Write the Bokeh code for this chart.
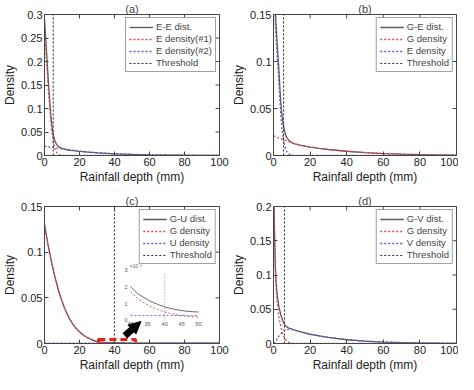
import math
from bokeh.plotting import figure
from bokeh.layouts import column, row
from bokeh.models import (Range1d, FixedTicker, Legend, LegendItem, Spacer,
                          Arrow, NormalHead, BoxAnnotation)
from bokeh.core.properties import value
from bokeh.embed import file_html
from bokeh.resources import INLINE

FONT = "Liberation Sans"
C_SOLID = "#5a5a5a"
C_RED = "#e0474c"
C_BLUE = "#5a5ad0"
C_THR = "#303030"

XTICKS = [0, 20, 40, 60, 80, 100]

# ---------------- panel (a) ----------------
xa = [0, 0.5, 1, 1.5, 2, 2.5, 3, 3.5, 4, 4.5, 5, 6, 7, 8, 10, 12, 15, 20, 25, 30, 40, 50, 60, 70, 80, 90, 100]
a_ee = [0.29, 0.26, 0.23, 0.2, 0.17, 0.142, 0.115, 0.092, 0.072, 0.056, 0.044, 0.03, 0.023, 0.019, 0.015, 0.0128,
        0.011, 0.0088, 0.007, 0.0056, 0.0036, 0.0023, 0.0015, 0.001, 0.0006, 0.0004, 0.0003]
a_e1 = [0.27, 0.24, 0.21, 0.18, 0.15, 0.125, 0.1, 0.078, 0.058, 0.042, 0.03, 0.014, 0.006, 0.002, 0.0003, 0.0,
        0.0, 0.0, 0.0, 0.0, 0.0, 0.0, 0.0, 0.0, 0.0, 0.0, 0.0]
a_e2 = [0.02, 0.0196, 0.0192, 0.0188, 0.0185, 0.0181, 0.0178, 0.0175, 0.0172, 0.0169, 0.0166, 0.016, 0.0155, 0.015,
        0.0142, 0.0132, 0.012, 0.0095, 0.0075, 0.006, 0.0038, 0.0024, 0.0015, 0.001, 0.0006, 0.0004, 0.0003]
a_thr = 5
a_yticks = [0, 0.05, 0.1, 0.15, 0.2, 0.25, 0.3]
a_ylabels = ["0", "0.05", "0.1", "0.15", "0.2", "0.25", "0.3"]

# ---------------- panel (b) ----------------
xb = xa
b_ge = [0.25, 0.2, 0.155, 0.135, 0.12, 0.105, 0.09, 0.072, 0.056, 0.045, 0.037, 0.026, 0.02, 0.017, 0.0137, 0.0122,
        0.0107, 0.009, 0.0076, 0.0064, 0.0045, 0.0031, 0.0021, 0.0014, 0.001, 0.0007, 0.0005]
b_g = [0.021, 0.0206, 0.0202, 0.0198, 0.0194, 0.019, 0.0187, 0.0184, 0.0181, 0.0178, 0.0175, 0.0165, 0.0158, 0.015,
       0.0133, 0.0121, 0.0107, 0.009, 0.0076, 0.0064, 0.0045, 0.0031, 0.0021, 0.0014, 0.001, 0.0007, 0.0005]
b_e = [0.23, 0.185, 0.14, 0.12, 0.105, 0.09, 0.075, 0.058, 0.043, 0.031, 0.022, 0.011, 0.005, 0.002, 0.0004, 0.0,
       0.0, 0.0, 0.0, 0.0, 0.0, 0.0, 0.0, 0.0, 0.0, 0.0, 0.0]
b_thr = 5.5
b_yticks = [0, 0.05, 0.1, 0.15]
b_ylabels = ["0", "0.05", "0.1", "0.15"]

# ---------------- panel (c) ----------------
xc = [0, 2, 4, 6, 8, 10, 12, 14, 16, 18, 20, 22, 24, 26, 28, 30, 32, 34, 36, 38, 40, 42, 44, 46, 48, 50,
      55, 60, 70, 80, 90, 100]
c_g = [0.13, 0.108, 0.089, 0.072, 0.058, 0.046, 0.036, 0.028, 0.0215, 0.0165, 0.0125, 0.0093, 0.0068, 0.0048,
       0.0031, 0.0017, 0.0013, 0.00105, 0.00082, 0.00065, 0.0005, 0.0004, 0.00032, 0.00026, 0.00022, 0.0002,
       0.00012, 0.00007, 0.00003, 0.00001, 0.0, 0.0]
c_u = [0.0003] * len(xc)
c_gu = [0.1303, 0.1083, 0.0893, 0.0723, 0.0583, 0.0463, 0.0363, 0.0283, 0.0218, 0.0168, 0.0128, 0.0096, 0.0071,
        0.0051, 0.0034, 0.002, 0.0016, 0.00135, 0.00112, 0.00095, 0.0008, 0.0007, 0.00062, 0.00056, 0.00052, 0.0005,
        0.00042, 0.00037, 0.00033, 0.00031, 0.0003, 0.0003]
c_thr = 40
c_yticks = [0, 0.05, 0.1, 0.15]
c_ylabels = ["0", "0.05", "0.1", "0.15"]
inset_xticks = [30, 35, 40, 45, 50]
inset_yticks = [0, 1, 2, 3]          # x 10^-3
inset_xlim = [30, 50]
inset_ylim = [0, 0.003]
zoom_box_x = [30.8, 52]

# ---------------- panel (d) ----------------
xd = [0, 0.1, 0.25, 0.5, 1, 1.5, 2, 3, 4, 5, 6, 7, 8, 10, 12, 15, 20, 25, 30, 40, 50, 60, 70, 80, 90, 100]
d_gv = [0.6, 0.35, 0.22, 0.17, 0.112, 0.087, 0.071, 0.053, 0.042, 0.034, 0.028, 0.025, 0.023, 0.021, 0.019, 0.017,
        0.0135, 0.011, 0.0088, 0.0055, 0.0034, 0.0021, 0.0013, 0.0008, 0.0005, 0.0003]
d_g = [0.6, 0.35, 0.22, 0.165, 0.105, 0.078, 0.06, 0.038, 0.024, 0.014, 0.008, 0.004, 0.002, 0.0005, 0.0001, 0.0,
       0.0, 0.0, 0.0, 0.0, 0.0, 0.0, 0.0, 0.0, 0.0, 0.0]
d_v = [0.0, 0.0003, 0.0008, 0.0015, 0.003, 0.0045, 0.007, 0.011, 0.014, 0.017, 0.019, 0.02, 0.0205, 0.0205, 0.019,
       0.017, 0.0135, 0.011, 0.0088, 0.0055, 0.0034, 0.0021, 0.0013, 0.0008, 0.0005, 0.0003]
d_thr = 6
d_yticks = [0, 0.05, 0.1, 0.15, 0.2]
d_ylabels = ["0", "0.05", "0.1", "0.15", "0.2"]


def make_panel(title, ymax, yticks, ylabels, curves, thr, thr_label, height, right_b):
    p = figure(width=229, height=height, x_range=Range1d(0, 100), y_range=Range1d(0, ymax),
               output_backend="svg", toolbar_location=None, title=title,
               min_border_left=30, min_border_right=right_b, min_border_top=2, min_border_bottom=2)
    p.title.text_font = FONT
    p.title.text_font_size = "11px"
    p.title.text_font_style = "normal"
    p.title.align = "center"
    p.title.standoff = 0
    p.title.offset = 0
    p.grid.visible = False
    p.outline_line_color = "#444444"
    p.outline_line_width = 1
    p.background_fill_color = "white"
    p.border_fill_color = "white"
    p.xaxis.ticker = FixedTicker(ticks=XTICKS)
    p.yaxis.ticker = FixedTicker(ticks=yticks)
    p.yaxis.major_label_overrides = {t: l for t, l in zip(yticks, ylabels)}
    for ax in (p.xaxis[0], p.yaxis[0]):
        ax.major_tick_in = 4
        ax.major_tick_out = 0
        ax.minor_tick_line_color = None
        ax.axis_line_color = "#444444"
        ax.major_tick_line_color = "#444444"
        ax.major_label_text_font = FONT
        ax.major_label_text_font_size = "11px"
        ax.major_label_text_color = "#222222"
        ax.major_label_standoff = 2
        ax.axis_label_text_font = FONT
        ax.axis_label_text_font_size = "12px"
        ax.axis_label_text_font_style = "normal"
        ax.axis_label_text_color = "#222222"
        ax.axis_label_standoff = 1
    p.xaxis.axis_label = "Rainfall depth (mm)"
    p.yaxis.axis_label = "Density"
    # mirrored inward ticks on top and right edges (box style)
    p.ray(x=XTICKS, y=[ymax] * len(XTICKS), length=4, length_units="screen", angle=-math.pi / 2,
          line_color="#444444", line_width=1)
    p.ray(x=[100] * len(yticks), y=yticks, length=4, length_units="screen", angle=math.pi,
          line_color="#444444", line_width=1)

    items = []
    for (x, y, color, dash, lab) in curves:
        r = p.line(x, y, line_color=color, line_width=1.3, line_dash=dash)
        items.append(LegendItem(label=lab, renderers=[r]))
    rt = p.line([thr, thr], [0, ymax], line_color=C_THR, line_width=1.1, line_dash="2 2")
    items.append(LegendItem(label=thr_label, renderers=[rt]))
    leg = Legend(items=items, location="top_right", label_text_font=FONT,
                 label_text_font_size="9.5px", label_height=10, glyph_height=10, glyph_width=24,
                 spacing=1, padding=3, margin=3, label_standoff=3,
                 border_line_color="#444444", border_line_width=1, background_fill_alpha=1)
    p.add_layout(leg)
    return p


H_TOP, H_BOT = 186, 182
pa = make_panel("(a)", 0.3, a_yticks, a_ylabels,
                [(xa, a_ee, C_SOLID, "solid", "E-E dist."),
                 (xa, a_e1, C_RED, "2 2", "E density(#1)"),
                 (xa, a_e2, C_BLUE, "2 2", "E density(#2)")],
                a_thr, "Threshold", H_TOP, 10)
pb = make_panel("(b)", 0.15, b_yticks, b_ylabels,
                [(xb, b_ge, C_SOLID, "solid", "G-E dist."),
                 (xb, b_g, C_RED, "2 2", "G density"),
                 (xb, b_e, C_BLUE, "2 2", "E density")],
                b_thr, "Threshold", H_TOP, 2)
pc = make_panel("(c)", 0.15, c_yticks, c_ylabels,
                [(xc, c_gu, C_SOLID, "solid", "G-U dist."),
                 (xc, c_g, C_RED, "2 2", "G density"),
                 (xc, c_u, C_BLUE, "2 2", "U density")],
                c_thr, "Threshold", H_BOT, 10)
pd_ = make_panel("(d)", 0.2, d_yticks, d_ylabels,
                 [(xd, d_gv, C_SOLID, "solid", "G-V dist."),
                  (xd, d_g, C_RED, "2 2", "G density"),
                  (xd, d_v, C_BLUE, "2 2", "V density")],
                 d_thr, "Threshold", H_BOT, 2)

# ---------------- inset in panel (c) ----------------
fx0, fx1 = 0.492, 0.881   # inset frame position as fraction of panel (c) frame
fy0, fy1 = 0.168, 0.538
sx = (inset_xlim[1] - inset_xlim[0]) / (fx1 - fx0)
sy = (inset_ylim[1] - inset_ylim[0]) / (fy1 - fy0)
pc.extra_x_ranges = {"ix": Range1d(inset_xlim[0] - fx0 * sx, inset_xlim[0] - fx0 * sx + sx)}
pc.extra_y_ranges = {"iy": Range1d(inset_ylim[0] - fy0 * sy, inset_ylim[0] - fy0 * sy + sy)}
sel = [i for i, v in enumerate(xc) if inset_xlim[0] <= v <= inset_xlim[1]]
ix = [xc[i] for i in sel]
pc.line(ix, [c_gu[i] for i in sel], x_range_name="ix", y_range_name="iy", line_color=C_SOLID, line_width=0.9)
pc.line(ix, [c_g[i] for i in sel], x_range_name="ix", y_range_name="iy", line_color=C_RED, line_width=0.9,
        line_dash="2 2")
pc.line(ix, [c_u[i] for i in sel], x_range_name="ix", y_range_name="iy", line_color=C_BLUE, line_width=0.9,
        line_dash="2 2")
pc.line([c_thr, c_thr], [inset_ylim[0], inset_ylim[1] * 0.93], x_range_name="ix", y_range_name="iy",
        line_color="#777777", line_width=0.8, line_dash="1 2")
pc.text(inset_xticks, [inset_ylim[0]] * len(inset_xticks), text=[str(t) for t in inset_xticks],
        x_range_name="ix", y_range_name="iy", text_font=value(FONT), text_font_size="5.5px",
        text_color="#555555", text_align="center", text_baseline="top", y_offset=2)
pc.text([inset_xlim[0]] * len(inset_yticks), [t * 1e-3 for t in inset_yticks], text=[str(t) for t in inset_yticks],
        x_range_name="ix", y_range_name="iy", text_font=value(FONT), text_font_size="5.5px",
        text_color="#555555", text_align="right", text_baseline="middle", x_offset=-3)
pc.text([inset_xlim[0]], [inset_ylim[1]], text=["×10⁻³"], x_range_name="ix", y_range_name="iy",
        text_font=value(FONT), text_font_size="5px", text_color="#555555", text_align="left",
        text_baseline="bottom", x_offset=-1, y_offset=-1)

# zoom box + arrow
pc.add_layout(BoxAnnotation(left=zoom_box_x[0], right=zoom_box_x[1], bottom=-0.0049, top=0.0045,
                            fill_alpha=0, line_color="#e8201c", line_alpha=1, line_width=3, line_dash="7 4"))
pc.add_layout(Arrow(end=NormalHead(size=12, fill_color="black", line_color="black"),
                    x_start=45.9, y_start=0.0084, x_end=55.1, y_end=0.0241,
                    line_color="black", line_width=7))

layout = column(row(pa, pb), Spacer(height=6), row(pc, pd_))
open("out.html", "w").write(file_html(layout, INLINE))
